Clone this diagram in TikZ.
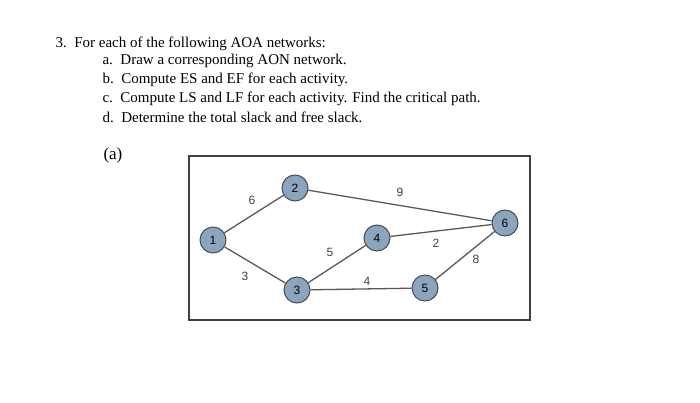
\documentclass[tikz,border=0pt]{standalone}
\usepackage{fontspec}
\setmainfont{Liberation Serif}
\newfontfamily\lab{Liberation Sans}
\definecolor{ndfill}{RGB}{140,165,190}
\begin{document}
\begin{tikzpicture}[x=1pt,y=-1pt,
  nd/.style={circle,draw=black!70,fill=ndfill,line width=1pt,minimum size=26pt,inner sep=0pt,font=\lab\fontsize{12}{14}\selectfont},
  ed/.style={draw=black!65,line width=1.3pt},
  lb/.style={font=\lab\fontsize{12}{14}\selectfont,text=black!75},
  tx/.style={anchor=west,font=\fontsize{15}{17}\selectfont}]
\useasboundingbox (0,0) rectangle (700,403);
\node[tx] (t0) at (52,44) {3.\ \ For each of the following AOA networks:};
\node[tx] (ta) at (99,61) {a.\ \ Draw a corresponding AON network.};
\node[tx] (tb) at (99,80) {b.\ \ Compute ES and EF for each activity.};
\node[tx] (tc) at (99,99) {c.\ \ Compute LS and LF for each activity. Find the critical path.};
\node[tx] (td) at (99,117) {d.\ \ Determine the total slack and free slack.};
\node[tx,font=\fontsize{17}{19}\selectfont] (tp) at (100,155) {(a)};
\draw[black!75,line width=2.2pt,fill=white] (189,156) rectangle (530,320);
\node[nd] (n1) at (213,240) {1};
\node[nd] (n2) at (295,188) {2};
\node[nd] (n3) at (297,290) {3};
\node[nd] (n4) at (377,238) {4};
\node[nd] (n5) at (425,288) {5};
\node[nd] (n6) at (505,223) {6};
\draw[ed] (n1)--(n2); \draw[ed] (n1)--(n3); \draw[ed] (n2)--(n6);
\draw[ed] (n3)--(n4); \draw[ed] (n3)--(n5); \draw[ed] (n4)--(n6); \draw[ed] (n5)--(n6);
\node[lb] (l12) at (252,200) {6};
\node[lb] (l13) at (245,276) {3};
\node[lb] (l26) at (400,192) {9};
\node[lb] (l34) at (330,252) {5};
\node[lb] (l35) at (367,281) {4};
\node[lb] (l46) at (436,243) {2};
\node[lb] (l56) at (476,259) {8};
\end{tikzpicture}
\end{document}
